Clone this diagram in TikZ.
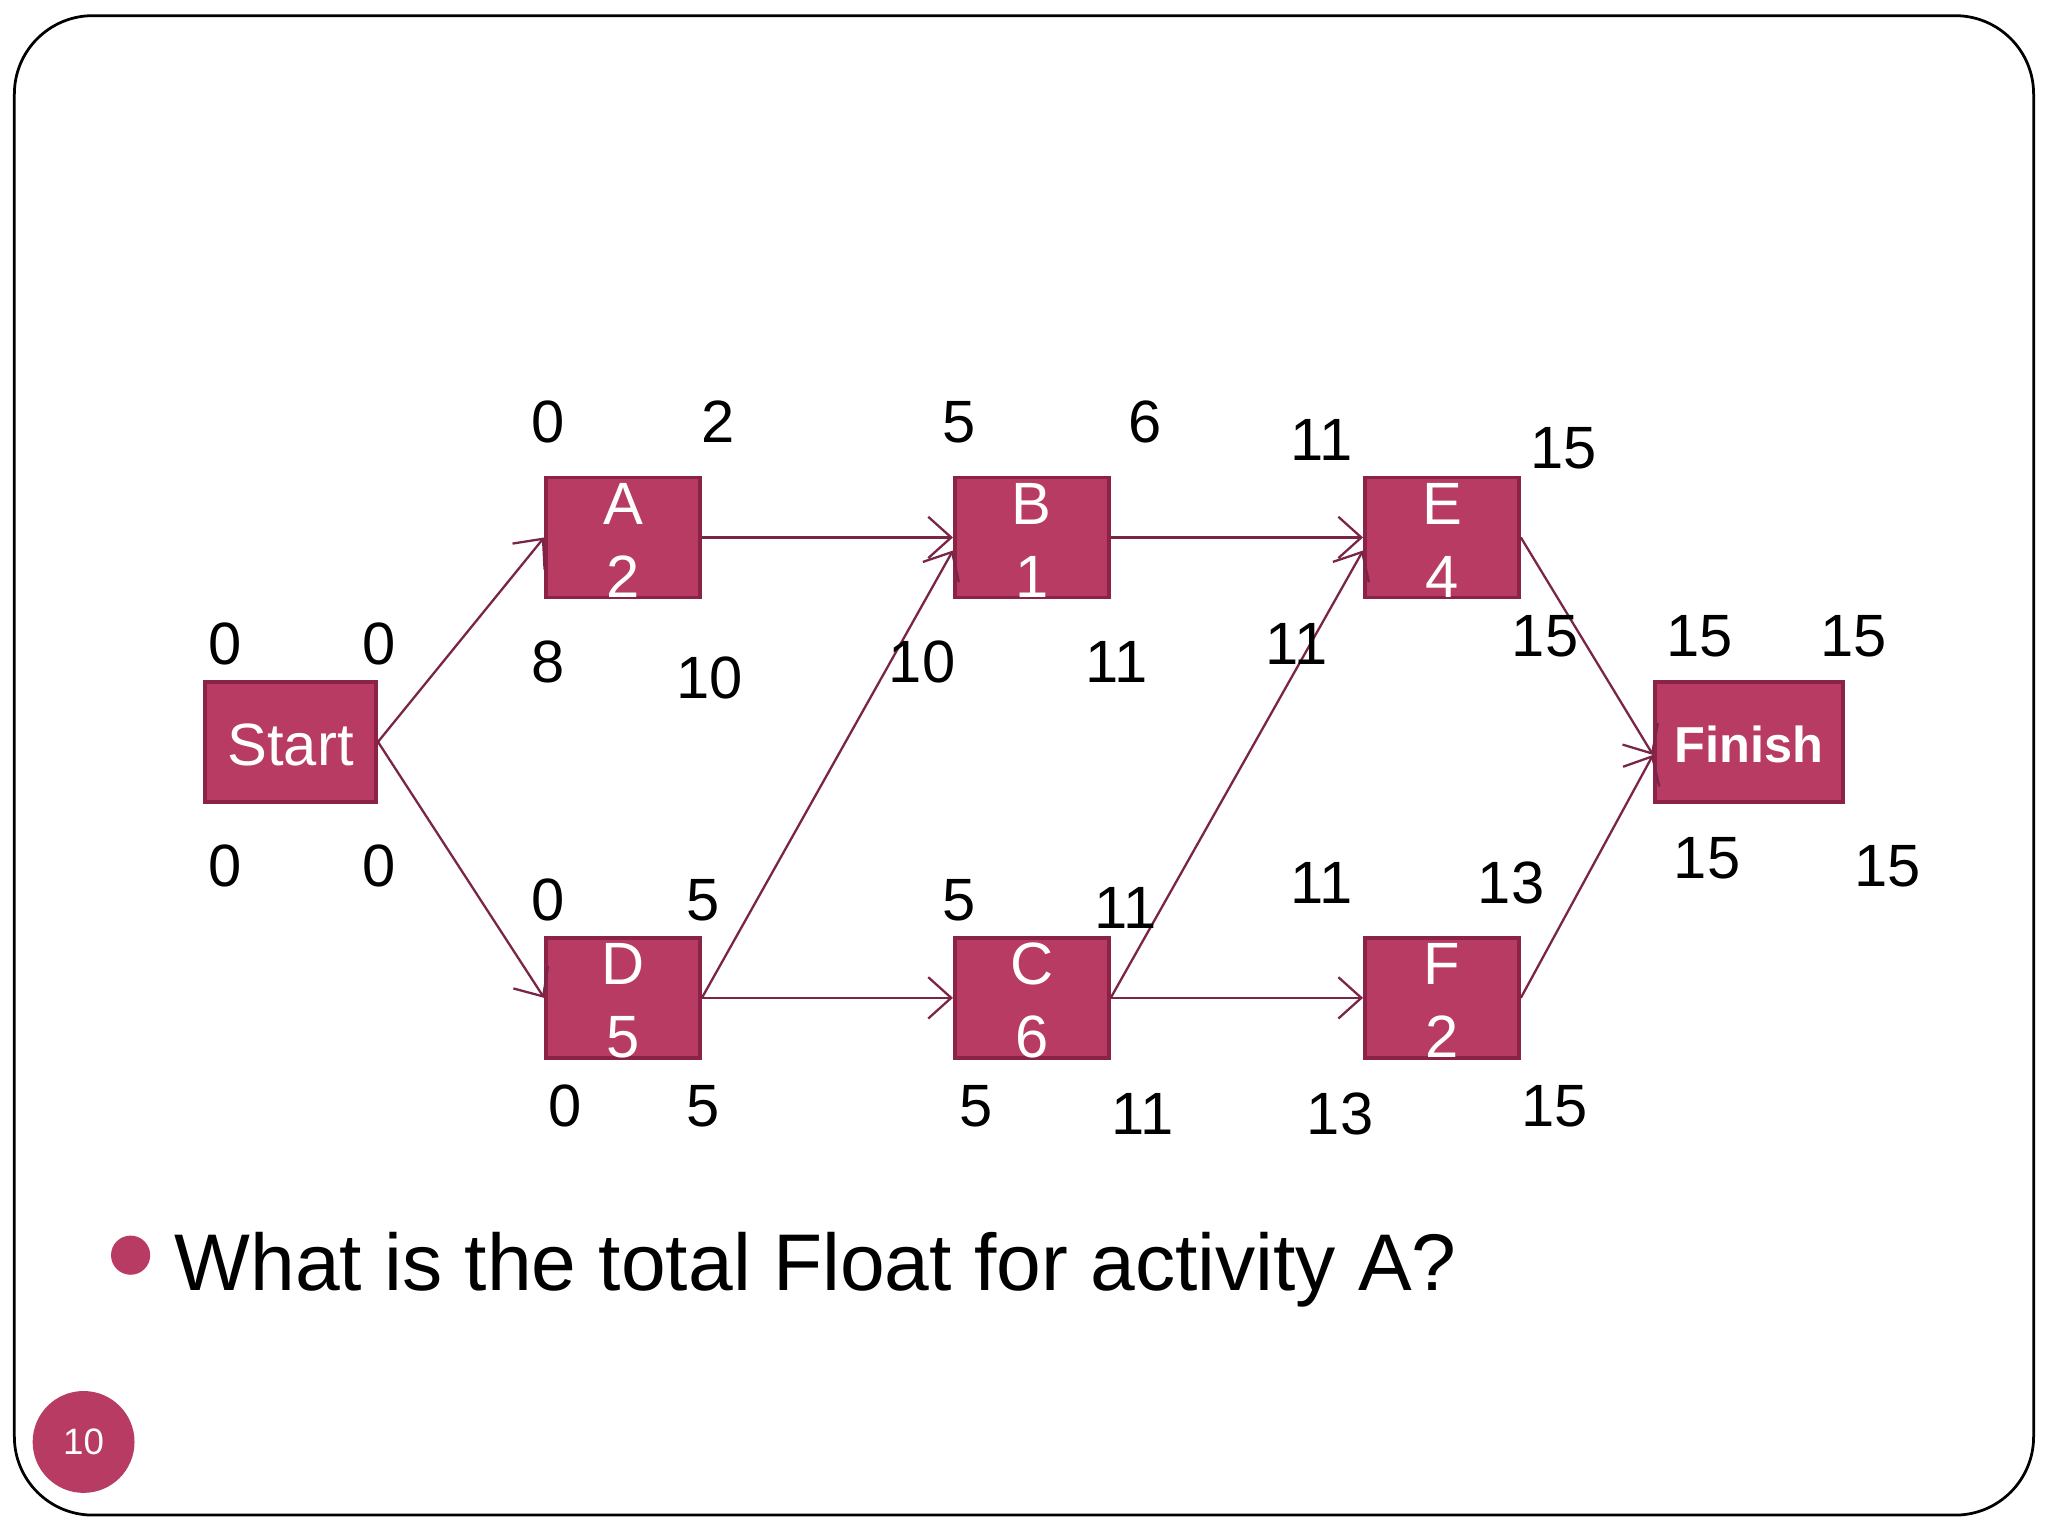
\documentclass[tikz,border=0pt]{standalone}
\usepackage{fontspec}
\setmainfont{Liberation Sans}
\usetikzlibrary{arrows.meta}
\definecolor{boxc}{HTML}{B83B63}
\definecolor{boxb}{HTML}{8B2346}
\definecolor{linec}{HTML}{7A2448}
\begin{document}
\begin{tikzpicture}[x=0.01cm,y=-0.01cm,
  act/.style={draw=boxb,fill=boxc,line width=0.8pt,minimum width=118*0.01cm,minimum height=92*0.01cm,inner sep=0pt},
  lbl/.style={white,font=\fontsize{13}{14}\selectfont},
  num/.style={font=\fontsize{13}{14}\selectfont},
  conn/.style={draw=linec,line width=0.5pt,-{Straight Barb[length=5pt,width=9pt]}}]
\useasboundingbox (0,0) rectangle (1568,1176);
\draw[line width=0.6pt,rounded corners=60*0.01cm] (11,12) rectangle (1557,1160);
% boxes
\node[act,minimum width=131*0.01cm] (S) at (222.5,568) {};
\node[lbl] at (222.5,570) {Start};
\node[act,minimum width=144*0.01cm] (Fi) at (1339,568) {};
\node[lbl,font=\bfseries\fontsize{11}{12}\selectfont] at (1339,570) {Finish};
\foreach \n/\x/\y/\a/\d in {A/477/411.5/A/2, B/790/411.5/B/1, E/1104/411.5/E/4, D/477/764/D/5, C/790/764/C/6, F/1104/764/F/2}{
  \node[act] (\n) at (\x,\y) {};
  \node[lbl] at (\x,\y-26) {\a};
  \node[lbl] at (\x,\y+30) {\d};
}
% connectors
\draw[conn] (S.east) -- (A.west);
\draw[conn] (S.east) -- (D.west);
\draw[conn] (A.east) -- (B.west);
\draw[conn] (B.east) -- (E.west);
\draw[conn] (D.east) -- (C.west);
\draw[conn] (C.east) -- (F.west);
\draw[conn] (D.east) -- ([yshift=-0.1cm]B.west);
\draw[conn] (C.east) -- ([yshift=-0.1cm]E.west);
\draw[conn] (E.east) -- ([yshift=-0.1cm]Fi.west);
\draw[conn] (F.east) -- ([yshift=-0.1cm]Fi.west);
% numbers
\foreach \t/\x/\y in {0/172/493, 0/290/493, 0/172/663, 0/290/663,
  0/420/323, 2/550/323, 8/420/507, 10/543/519,
  5/734/323, 6/877/323, 10/706/507, 11/855/507,
  11/1012/337, 15/1197/343, 11/993/493, 15/1183/487,
  15/1301/487, 15/1419/487, 15/1307/657, 15/1445/663,
  0/420/689, 5/538/689, 0/433/847, 5/538/847,
  5/734/689, 11/862/695, 5/747/847, 11/875/853,
  11/1012/676, 13/1157/676, 13/1026/853, 15/1190/847}{
  \node[num] at (\x,\y) {\t};
}
% bullet text
\fill[boxc] (100,961) circle (15*0.01cm);
\node[anchor=base west,inner sep=0pt,font=\fontsize{17.5}{20}\selectfont] (q) at (133,988) {What is the total Float for activity A?};
% page number
\fill[boxc] (64,1104) circle (39*0.01cm);
\node[white,font=\fontsize{8}{9}\selectfont] (pn) at (64,1104) {10};
\end{tikzpicture}
\end{document}
